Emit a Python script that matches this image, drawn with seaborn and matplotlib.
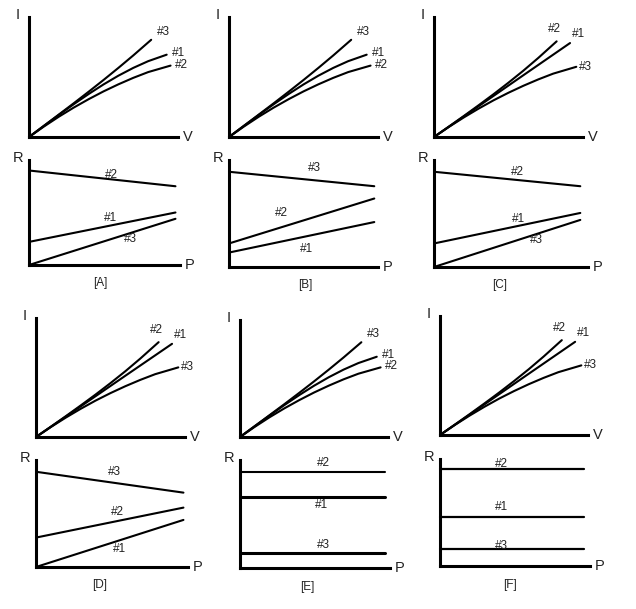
import matplotlib
matplotlib.use("Agg")
import matplotlib.pyplot as plt
import seaborn as sns

# I-V curves, panels A, B, E  (#3 bends up, #1 and #2 bend down)
v_up_1 = [0, 1, 2, 3, 4, 5, 6, 7, 8, 9.24]
i_up_1 = [0, 0.93, 1.84, 2.73, 3.58, 4.38, 5.11, 5.76, 6.32, 6.86]
v_up_2 = [0, 1, 2, 3, 4, 5, 6, 7, 8, 9.5]
i_up_2 = [0, 0.87, 1.69, 2.45, 3.15, 3.8, 4.39, 4.93, 5.41, 5.95]
v_up_3 = [0, 1, 2, 3, 4, 5, 6, 7, 8.2]
i_up_3 = [0, 0.93, 1.87, 2.81, 3.77, 4.75, 5.76, 6.8, 8.1]

# I-V curves, panels C, D, F  (#2 bends up, #1 straight, #3 bends down)
v_dn_1 = [0, 3, 6, 9.13]
i_dn_1 = [0, 2.57, 5.15, 7.83]
v_dn_2 = [0, 1, 2, 3, 4, 5, 6, 7, 8.23]
i_dn_2 = [0, 0.87, 1.75, 2.65, 3.57, 4.53, 5.53, 6.59, 7.97]
v_dn_3 = [0, 1, 2, 3, 4, 5, 6, 7, 8, 9.55]
i_dn_3 = [0, 0.84, 1.63, 2.37, 3.06, 3.69, 4.27, 4.8, 5.28, 5.85]

# R-P lines: R at P=0 and at the end of the line
p_a = [0, 9.7]
r_a1 = [2.2, 5.0]
r_a2 = [9.0, 7.5]
r_a3 = [0.0, 4.4]
p_b = [0, 9.75]
r_b1 = [1.35, 4.2]
r_b2 = [2.2, 6.4]
r_b3 = [8.9, 7.55]
p_c = [0, 9.5]
r_c1 = [2.2, 5.05]
r_c2 = [8.9, 7.55]
r_c3 = [0.0, 4.4]
p_d = [0, 9.7]
r_d1 = [0.0, 4.4]
r_d2 = [2.75, 5.55]
r_d3 = [8.9, 6.95]
p_e = [0, 9.65]
r_e1 = [6.6, 6.6]
r_e2 = [8.85, 8.85]
r_e3 = [1.35, 1.35]
p_f = [0, 9.6]
r_f1 = [4.6, 4.6]
r_f2 = [9.05, 9.05]
r_f3 = [1.55, 1.55]

names = ["#1", "#2", "#3"]
panels = ["[A]", "[B]", "[C]", "[D]", "[E]", "[F]"]

sns.set_theme(style="white")
plt.rcParams["font.family"] = ["Liberation Sans", "DejaVu Sans"]

W, H = 636, 609
fig = plt.figure(figsize=(W / 100, H / 100), dpi=100)


def add_box(x0, x1, top, bot):
    return fig.add_axes([x0 / W, 1 - bot / H, (x1 - x0) / W, (bot - top) / H])


def frame(ax, xname, yname):
    ax.set_xlim(0, 10)
    ax.set_ylim(0, 10)
    ax.set_xticks([])
    ax.set_yticks([])
    sns.despine(ax=ax)
    for s in ("left", "bottom"):
        ax.spines[s].set_linewidth(2.2)
        ax.spines[s].set_color("black")
    ax.patch.set_alpha(0)
    ax.annotate(yname, xy=(0, 1), xycoords="axes fraction", xytext=(-11, 2),
                textcoords="offset pixels", ha="center", va="center", fontsize=10.5, color="#222")
    ax.annotate(xname, xy=(1, 0), xycoords="axes fraction", xytext=(10, 0),
                textcoords="offset pixels", ha="center", va="center", fontsize=10.5, color="#222")


def draw(ax, x, y, lw=1.5):
    sns.lineplot(x=x, y=y, ax=ax, color="black", linewidth=lw,
                 estimator=None, sort=False, legend=False)
    ax.lines[-1].set_clip_on(False)
    ax.lines[-1].set_solid_joinstyle("round")


iv_boxes = [(29, 178, 17, 137), (229, 378, 17, 137), (434, 583, 17, 137),
            (36, 185, 318, 437), (240, 388, 320, 437), (440, 588, 316, 435)]
rp_boxes = [(29, 180, 160, 265), (229, 378, 160, 267), (434, 588, 160, 267),
            (36, 188, 460, 567), (240, 390, 460, 568), (440, 590, 459, 566)]
caption_xy = [(100, 283), (305, 285), (500, 285), (100, 585), (307, 587), (510, 585)]

iv_up = [(v_up_1, i_up_1), (v_up_2, i_up_2), (v_up_3, i_up_3)]
iv_dn = [(v_dn_1, i_dn_1), (v_dn_2, i_dn_2), (v_dn_3, i_dn_3)]
up_offs = [(12, 2), (11, 1), (12, 8)]
dn_offs = [(8, 9), (-2, 12), (9, 0)]
iv_sets = [(iv_up, up_offs), (iv_up, up_offs), (iv_dn, dn_offs),
           (iv_dn, dn_offs), (iv_up, up_offs), (iv_dn, dn_offs)]

rp_sets = [(p_a, [r_a1, r_a2, r_a3]), (p_b, [r_b1, r_b2, r_b3]),
           (p_c, [r_c1, r_c2, r_c3]), (p_d, [r_d1, r_d2, r_d3]),
           (p_e, [r_e1, r_e2, r_e3]), (p_f, [r_f1, r_f2, r_f3])]
# label positions (P, R) for #1, #2, #3 in each R-P panel
rp_label_pos = [
    [(5.43, 4.44), (5.47, 8.57), (6.69, 2.44)],
    [(5.2, 1.72), (3.53, 5.0), (5.76, 9.22)],
    [(5.52, 4.47), (5.45, 8.9), (6.65, 2.5)],
    [(5.47, 1.72), (5.36, 5.16), (5.14, 8.9)],
    [(5.44, 5.82), (5.56, 9.69), (5.56, 2.1)],
    [(4.1, 5.53), (4.1, 9.53), (4.1, 1.84)],
]
rp_widths = [[1.5] * 3, [1.5] * 3, [1.5] * 3, [1.5] * 3, [2.2, 1.5, 2.2], [1.6] * 3]

for k in range(6):
    ax = add_box(*iv_boxes[k])
    frame(ax, "V", "I")
    curves, offs = iv_sets[k]
    for (v, i), name, off in zip(curves, names, offs):
        draw(ax, v, i)
        ax.annotate(name, xy=(v[-1], i[-1]), xytext=off, textcoords="offset pixels",
                    ha="center", va="center", fontsize=8.5, color="#222")

    ax = add_box(*rp_boxes[k])
    frame(ax, "P", "R")
    p, rs = rp_sets[k]
    for r, name, pos, lw in zip(rs, names, rp_label_pos[k], rp_widths[k]):
        draw(ax, p, r, lw)
        ax.text(pos[0], pos[1], name, ha="center", va="center", fontsize=8.5, color="#222")

    cx, cy = caption_xy[k]
    fig.text(cx / W, 1 - cy / H, panels[k], ha="center", va="center", fontsize=8.5, color="#222")

fig.savefig("out.png", dpi=100)
